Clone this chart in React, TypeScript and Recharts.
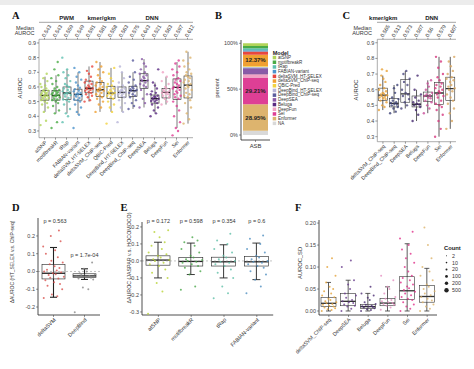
import React from 'react';
import { ComposedChart, BarChart, Bar, Scatter, XAxis, YAxis, ReferenceLine, LabelList } from 'recharts';

const FONT = '"Liberation Sans", Arial, Helvetica, sans-serif';
const SERIF = '"Liberation Serif", "Times New Roman", serif';

const colors: Record<string, string> = {
  atSNP: '#b2d45a',
  motifbreakR: '#4aab45',
  tRap: '#5fc0b0',
  'FABIAN-variant': '#4e94cc',
  'deltaSVM_HT-SELEX': '#e8473f',
  'deltaSVM_ChIP-seq': '#f0a032',
  'QBiC-Pred': '#f3d23f',
  'DeepBind_HT-SELEX': '#b8b5d8',
  'DeepBind_ChIP-seq': '#5b5d9e',
  DeepSEA: '#8a5aa8',
  Beluga: '#5a2a82',
  DeepFun: '#f0a3c4',
  Sei: '#de3f95',
  Enformer: '#ddb46e',
  NA: '#d9d9d9',
};

// jitter pattern for the dot clouds (fraction of half a band)
const JIT = [-0.9, 0.35, -0.15, 0.8, -0.55, 0.6, 0.05, -0.75, 0.45, -0.3, 0.95, -0.45, 0.2, -0.05, 0.7,
  -0.85, 0.3, -0.6, 0.55, 0.1, -0.35, 0.85, -0.2, 0.4, -0.7, 0.15, -0.95, 0.65, -0.25, 0.5];

// ---------- panel A ----------
const modelsA = ['atSNP', 'motifbreakR', 'tRap', 'FABIAN-variant', 'deltaSVM_HT-SELEX', 'deltaSVM_ChIP-seq',
  'QBiC-Pred', 'DeepBind_HT-SELEX', 'DeepBind_ChIP-seq', 'DeepSEA', 'Beluga', 'DeepFun', 'Sei', 'Enformer'];
const mediansA = ['0.543', '0.543', '0.559', '0.549', '0.591', '0.581', '0.558', '0.563', '0.575', '0.643',
  '0.521', '0.563', '0.597', '0.612'];
// lo whisker, q1, median, q3, hi whisker
const boxA = [
  [0.43, 0.51, 0.543, 0.575, 0.67],
  [0.42, 0.51, 0.543, 0.575, 0.68],
  [0.42, 0.515, 0.559, 0.6, 0.72],
  [0.41, 0.51, 0.549, 0.585, 0.7],
  [0.5, 0.56, 0.591, 0.64, 0.74],
  [0.43, 0.535, 0.581, 0.63, 0.77],
  [0.43, 0.52, 0.558, 0.605, 0.73],
  [0.43, 0.53, 0.563, 0.6, 0.7],
  [0.45, 0.535, 0.575, 0.605, 0.7],
  [0.46, 0.59, 0.643, 0.69, 0.79],
  [0.42, 0.49, 0.521, 0.545, 0.63],
  [0.48, 0.525, 0.563, 0.59, 0.67],
  [0.32, 0.515, 0.597, 0.655, 0.77],
  [0.35, 0.525, 0.612, 0.675, 0.84],
];
const dotsA = [
  [0.34, 0.37, 0.43, 0.46, 0.48, 0.49, 0.5, 0.51, 0.515, 0.52, 0.525, 0.53, 0.535, 0.54, 0.54, 0.545, 0.55, 0.555, 0.56, 0.565, 0.57, 0.575, 0.58, 0.59, 0.6, 0.61, 0.62, 0.64, 0.66, 0.69],
  [0.32, 0.36, 0.42, 0.44, 0.47, 0.49, 0.5, 0.51, 0.515, 0.52, 0.53, 0.535, 0.54, 0.54, 0.545, 0.55, 0.555, 0.56, 0.565, 0.57, 0.575, 0.58, 0.59, 0.6, 0.62, 0.64, 0.66, 0.68, 0.72, 0.77],
  [0.36, 0.4, 0.42, 0.45, 0.48, 0.5, 0.51, 0.515, 0.525, 0.535, 0.545, 0.55, 0.555, 0.56, 0.565, 0.57, 0.58, 0.59, 0.6, 0.61, 0.62, 0.64, 0.66, 0.68, 0.7, 0.72, 0.8],
  [0.32, 0.41, 0.43, 0.46, 0.48, 0.5, 0.51, 0.515, 0.525, 0.535, 0.54, 0.545, 0.55, 0.555, 0.56, 0.57, 0.575, 0.585, 0.595, 0.61, 0.63, 0.65, 0.67, 0.7, 0.73],
  [0.5, 0.51, 0.53, 0.54, 0.55, 0.56, 0.565, 0.575, 0.58, 0.585, 0.59, 0.595, 0.6, 0.61, 0.62, 0.63, 0.64, 0.65, 0.67, 0.69, 0.71, 0.74],
  [0.43, 0.46, 0.48, 0.5, 0.52, 0.53, 0.54, 0.55, 0.56, 0.57, 0.575, 0.58, 0.585, 0.59, 0.6, 0.61, 0.62, 0.63, 0.64, 0.66, 0.68, 0.7, 0.72, 0.74, 0.77],
  [0.35, 0.43, 0.46, 0.48, 0.5, 0.52, 0.53, 0.54, 0.55, 0.555, 0.56, 0.565, 0.57, 0.58, 0.59, 0.6, 0.61, 0.62, 0.64, 0.66, 0.69, 0.73],
  [0.36, 0.43, 0.46, 0.49, 0.51, 0.53, 0.54, 0.55, 0.555, 0.56, 0.565, 0.57, 0.575, 0.58, 0.59, 0.6, 0.61, 0.63, 0.66, 0.7, 0.74],
  [0.45, 0.47, 0.49, 0.51, 0.53, 0.54, 0.55, 0.56, 0.57, 0.575, 0.58, 0.585, 0.59, 0.6, 0.61, 0.63, 0.65, 0.67, 0.7, 0.78],
  [0.46, 0.49, 0.52, 0.55, 0.58, 0.6, 0.61, 0.62, 0.63, 0.64, 0.645, 0.65, 0.66, 0.67, 0.68, 0.69, 0.7, 0.72, 0.74, 0.76, 0.79],
  [0.4, 0.42, 0.44, 0.46, 0.48, 0.49, 0.5, 0.505, 0.51, 0.515, 0.52, 0.525, 0.53, 0.535, 0.54, 0.55, 0.56, 0.57, 0.59, 0.61, 0.63, 0.72],
  [0.48, 0.5, 0.52, 0.53, 0.54, 0.55, 0.555, 0.56, 0.565, 0.57, 0.575, 0.58, 0.59, 0.6, 0.62, 0.64, 0.67, 0.7],
  [0.27, 0.3, 0.32, 0.36, 0.4, 0.44, 0.47, 0.5, 0.52, 0.53, 0.54, 0.55, 0.56, 0.57, 0.58, 0.59, 0.595, 0.6, 0.61, 0.62, 0.63, 0.64, 0.65, 0.66, 0.68, 0.7, 0.72, 0.74, 0.76, 0.78],
  [0.35, 0.38, 0.42, 0.46, 0.49, 0.51, 0.53, 0.54, 0.55, 0.56, 0.58, 0.59, 0.6, 0.61, 0.62, 0.63, 0.64, 0.65, 0.66, 0.67, 0.68, 0.69, 0.7, 0.72, 0.74, 0.76, 0.78, 0.8, 0.84],
];

// ---------- panel B ----------
const legendModels = ['atSNP', 'motifbreakR', 'tRap', 'FABIAN-variant', 'deltaSVM_HT-SELEX', 'deltaSVM_ChIP-seq',
  'QBiC-Pred', 'DeepBind_HT-SELEX', 'DeepBind_ChIP-seq', 'DeepSEA', 'Beluga', 'DeepFun', 'Sei', 'Enformer', 'NA'];
const sharesB = [2.87, 2.4, 2.2, 1.5, 3.4, 12.37, 0.8, 1.2, 0.8, 5.0, 1.2, 3.5, 29.21, 28.95, 4.6];
const labelledB = ['deltaSVM_ChIP-seq', 'Sei', 'Enformer'];

// ---------- panel C ----------
const modelsC = ['deltaSVM_ChIP-seq', 'DeepBind_ChIP-seq', 'DeepSEA', 'Beluga', 'DeepFun', 'Sei', 'Enformer'];
const mediansC = ['0.565', '0.513', '0.573', '0.507', '0.56', '0.579', '0.607'];
const boxC = [
  [0.47, 0.532, 0.565, 0.61, 0.69],
  [0.45, 0.49, 0.513, 0.545, 0.63],
  [0.48, 0.52, 0.573, 0.665, 0.72],
  [0.4, 0.49, 0.507, 0.56, 0.6],
  [0.45, 0.525, 0.56, 0.585, 0.66],
  [0.3, 0.505, 0.579, 0.645, 0.81],
  [0.35, 0.53, 0.607, 0.68, 0.81],
];
const dotsC = [
  [0.47, 0.49, 0.5, 0.52, 0.53, 0.54, 0.545, 0.55, 0.555, 0.56, 0.565, 0.57, 0.575, 0.58, 0.59, 0.6, 0.61, 0.63, 0.65, 0.67, 0.69, 0.72, 0.73],
  [0.45, 0.46, 0.48, 0.49, 0.5, 0.505, 0.51, 0.515, 0.52, 0.53, 0.54, 0.55, 0.58, 0.61, 0.63],
  [0.48, 0.5, 0.52, 0.54, 0.56, 0.57, 0.58, 0.6, 0.63, 0.65, 0.67, 0.7, 0.72],
  [0.4, 0.44, 0.47, 0.49, 0.5, 0.505, 0.51, 0.52, 0.53, 0.55, 0.57, 0.6, 0.69],
  [0.45, 0.48, 0.5, 0.52, 0.53, 0.545, 0.55, 0.56, 0.565, 0.57, 0.58, 0.6, 0.62, 0.64, 0.66],
  [0.3, 0.35, 0.4, 0.44, 0.47, 0.49, 0.5, 0.51, 0.53, 0.55, 0.56, 0.57, 0.58, 0.59, 0.6, 0.61, 0.62, 0.63, 0.64, 0.66, 0.68, 0.7, 0.74, 0.78, 0.81],
  [0.35, 0.4, 0.45, 0.48, 0.51, 0.53, 0.55, 0.57, 0.59, 0.6, 0.61, 0.62, 0.63, 0.65, 0.66, 0.67, 0.68, 0.7, 0.72, 0.75, 0.78, 0.81],
];
const colorsC = ['#e9a23a', '#3f4378', '#4e4a80', '#45296f', '#c9509a', '#d6387f', '#d9a862'];

// ---------- panel D ----------
const modelsD = ['deltaSVM', 'DeepBind'];
const boxD = [
  [-0.145, -0.042, -0.01, 0.04, 0.135],
  [-0.045, -0.035, -0.025, -0.013, 0.015],
];
const dotsD = [
  [-0.15, -0.14, -0.13, -0.1, -0.08, -0.07, -0.06, -0.05, -0.04, -0.035, -0.03, -0.02, -0.015, -0.01, -0.005, 0, 0.005, 0.01, 0.02, 0.03, 0.04, 0.05, 0.06, 0.08, 0.1, 0.12, 0.14, 0.17, 0.2, 0.23],
  [-0.23, -0.1, -0.09, -0.045, -0.04, -0.035, -0.03, -0.028, -0.025, -0.02, -0.015, -0.01, 0.0, 0.015, 0.05],
];
const colorsD = ['#d9534f', '#888888'];
const pD = ['p = 0.563', 'p = 1.7e-04'];

// ---------- panel E ----------
const modelsE = ['atSNP', 'motifbreakR', 'tRap', 'FABIAN-variant'];
const boxE = [
  [-0.1, -0.025, 0.005, 0.03, 0.11],
  [-0.08, -0.03, -0.003, 0.02, 0.105],
  [-0.1, -0.03, -0.005, 0.022, 0.095],
  [-0.11, -0.03, -0.005, 0.025, 0.105],
];
const dotsE = [
  [-0.31, -0.18, -0.13, -0.1, -0.07, -0.05, -0.03, -0.02, -0.01, 0, 0.005, 0.01, 0.02, 0.03, 0.04, 0.05, 0.07, 0.09, 0.11, 0.14, 0.17, 0.18],
  [-0.17, -0.15, -0.08, -0.06, -0.04, -0.03, -0.02, -0.01, -0.005, 0, 0.005, 0.01, 0.02, 0.03, 0.05, 0.07, 0.09, 0.11, 0.12, 0.14],
  [-0.22, -0.19, -0.15, -0.1, -0.07, -0.05, -0.03, -0.02, -0.01, -0.005, 0, 0.01, 0.02, 0.03, 0.05, 0.07, 0.1, 0.12, 0.16],
  [-0.19, -0.15, -0.11, -0.08, -0.06, -0.04, -0.03, -0.02, -0.01, -0.005, 0, 0.01, 0.02, 0.03, 0.05, 0.07, 0.1, 0.13, 0.15],
];
const colorsE = ['#b8d334', '#4aa84a', '#5fbfa8', '#4f8fc0'];
const pE = ['p = 0.172', 'p = 0.598', 'p = 0.354', 'p = 0.6'];

// ---------- panel F ----------
const modelsF = ['deltaSVM_ChIP-seq', 'DeepSEA', 'Beluga', 'DeepFun', 'Sei', 'Enformer'];
const boxF = [
  [0, 0.01, 0.0175, 0.031, 0.065],
  [0, 0.012, 0.022, 0.04, 0.07],
  [0, 0.006, 0.01, 0.015, 0.04],
  [0, 0.012, 0.018, 0.028, 0.055],
  [0, 0.026, 0.046, 0.078, 0.153],
  [0, 0.02, 0.033, 0.058, 0.097],
];
const dotsF = [
  [0, 0.002, 0.004, 0.006, 0.008, 0.01, 0.012, 0.014, 0.016, 0.018, 0.02, 0.022, 0.025, 0.028, 0.031, 0.035, 0.04, 0.045, 0.05, 0.055, 0.065, 0.08, 0.1, 0.12],
  [0, 0.005, 0.01, 0.012, 0.015, 0.018, 0.02, 0.022, 0.025, 0.03, 0.035, 0.04, 0.05, 0.06, 0.07, 0.1, 0.115],
  [0, 0.002, 0.004, 0.006, 0.008, 0.009, 0.01, 0.011, 0.012, 0.014, 0.016, 0.02, 0.025, 0.03, 0.035, 0.04, 0.055],
  [0.003, 0.008, 0.012, 0.014, 0.016, 0.018, 0.02, 0.022, 0.025, 0.028, 0.032, 0.04, 0.05, 0.055, 0.07, 0.08],
  [0, 0.005, 0.01, 0.015, 0.02, 0.025, 0.028, 0.032, 0.036, 0.04, 0.044, 0.048, 0.052, 0.056, 0.06, 0.065, 0.07, 0.075, 0.08, 0.09, 0.1, 0.11, 0.12, 0.13, 0.14, 0.15, 0.165, 0.18],
  [0, 0.005, 0.01, 0.015, 0.02, 0.024, 0.028, 0.032, 0.036, 0.04, 0.045, 0.05, 0.055, 0.06, 0.07, 0.08, 0.09, 0.1, 0.12, 0.15, 0.19],
];
const colorsF = ['#e3a33a', '#6a3d8f', '#4a2a72', '#e58cbf', '#e0308a', '#dcb36a'];
const countLabels = ['2', '10', '20', '100', '200', '500'];
const countSizes = [0.5, 0.8, 1.0, 1.4, 1.7, 2.2];

type BoxStyle = { stroke: string; fill: string; cap: number; sw: number; wsw: number };

const makeBox = (st: BoxStyle) => (p: any) => {
  const { x, y, width, height, payload } = p;
  if (payload == null || height == null || isNaN(height)) return <g />;
  const { lo, q1, med, q3, hi } = payload;
  const py = (v: number) => y + (height * (hi - v)) / (hi - lo);
  const cx = x + width / 2;
  return (
    <g>
      <line x1={cx} x2={cx} y1={py(hi)} y2={py(lo)} stroke={st.stroke} strokeWidth={st.wsw} />
      {st.cap > 0 && (
        <>
          <line x1={cx - st.cap / 2} x2={cx + st.cap / 2} y1={py(hi)} y2={py(hi)} stroke={st.stroke} strokeWidth={st.wsw} />
          <line x1={cx - st.cap / 2} x2={cx + st.cap / 2} y1={py(lo)} y2={py(lo)} stroke={st.stroke} strokeWidth={st.wsw} />
        </>
      )}
      <rect x={x} y={py(q3)} width={width} height={py(q1) - py(q3)} fill={st.fill} stroke={st.stroke} strokeWidth={st.sw} />
      <line x1={x} x2={x + width} y1={py(med)} y2={py(med)} stroke={st.stroke} strokeWidth={st.sw * 2.2} />
    </g>
  );
};

const CatTick = ({ x, y, payload, fs }: any) => (
  <text x={x + 1.5} y={y} dy="0.3em" textAnchor="end" fontSize={fs} style={{ fill: '#333' }} fontFamily={FONT}
    transform={`rotate(-45 ${x + 1.5} ${y})`}>
    {payload.value}
  </text>
);

const MedTick = ({ x, y, index, labels }: any) => (
  <text x={x - 1} y={y} dy="0.3em" textAnchor="start" fontSize={5.3} style={{ fill: '#333' }} fontFamily={FONT}
    transform={`rotate(-60 ${x - 1} ${y})`}>
    {labels[index]}
  </text>
);

const ValTick = ({ x, y, payload, digits, suffix }: any) => (
  <text x={x} y={y} dy="0.35em" textAnchor="end" fontSize={5.5} style={{ fill: '#444' }} fontFamily={FONT}>
    {`${Number(payload.value).toFixed(digits)}${suffix || ''}`}
  </text>
);

type PanelProps = {
  left: number; top: number; width: number; height: number;
  margin: { top: number; right: number; bottom: number; left: number };
  yW: number; topH?: number; bottomH: number;
  names: string[]; stats: number[][]; dots: number[][]; cols: string[];
  domain: [number, number]; ticks: number[]; digits: number;
  barSize: number; spread: number; box: BoxStyle; r: number;
  axisColor: string; framed?: boolean; topLabels?: string[]; zeroLine?: boolean; catFs: number;
};

const BoxPanel = (p: PanelProps) => {
  const rows = p.names.map((name, i) => ({
    name, lo: p.stats[i][0], q1: p.stats[i][1], med: p.stats[i][2], q3: p.stats[i][3], hi: p.stats[i][4],
  }));
  const pts = p.dots.flatMap((vals, i) =>
    vals.map((v, k) => ({ x: i + JIT[k % JIT.length] * p.spread, v, c: p.cols[i] })),
  );
  const n = p.names.length;
  const axisLine = { stroke: p.axisColor, strokeWidth: p.framed ? 0.7 : 0.8 };
  const tickLine = { stroke: '#333', strokeWidth: 0.5 };
  return (
    <div style={{ position: 'absolute', left: p.left, top: p.top }}>
      <ComposedChart width={p.width} height={p.height} data={rows} margin={p.margin}>
        <XAxis xAxisId="cat" dataKey="name" type="category" height={p.bottomH} interval={0}
          tick={<CatTick fs={p.catFs} />} tickSize={2} tickLine={tickLine} axisLine={axisLine} />
        {p.topLabels && (
          <XAxis xAxisId="top" dataKey="name" type="category" orientation="top" height={p.topH} interval={0}
            tick={<MedTick labels={p.topLabels} />} tickSize={1.5} tickMargin={1} tickLine={tickLine} axisLine={axisLine} />
        )}
        <XAxis xAxisId="px" type="number" dataKey="x" domain={[-0.5, n - 0.5]} allowDataOverflow hide />
        <YAxis yAxisId="v" domain={p.domain} ticks={p.ticks} allowDataOverflow width={p.yW} interval={0}
          tick={<ValTick digits={p.digits} />} tickSize={2} tickMargin={1} tickLine={tickLine} axisLine={axisLine} />
        {p.framed && (
          <YAxis yAxisId="r" orientation="right" width={0} tick={false} tickLine={false} domain={[0, 1]} axisLine={axisLine} />
        )}
        {p.zeroLine && (
          <ReferenceLine xAxisId="cat" yAxisId="v" y={0} stroke="#9a9a9a" strokeWidth={0.6} strokeDasharray="2 2" />
        )}
        <Scatter xAxisId="px" yAxisId="v" dataKey="v" data={pts} isAnimationActive={false}
          shape={(s: any) => <circle cx={s.cx} cy={s.cy} r={p.r} fill={s.payload.c} fillOpacity={0.8} />} />
        <Bar xAxisId="cat" yAxisId="v" dataKey={(d: any) => [d.lo, d.hi]} barSize={p.barSize}
          isAnimationActive={false} shape={makeBox(p.box)} />
      </ComposedChart>
    </div>
  );
};

const SharePanel = () => {
  const row: Record<string, any> = { name: 'ASB' };
  legendModels.forEach((m, i) => { row[m] = sharesB[i]; });
  const stackOrder = [...legendModels].reverse();
  return (
    <div style={{ position: 'absolute', left: 190, top: 0 }}>
      <BarChart width={90} height={160} data={[row]} margin={{ top: 40, right: 10, left: 0, bottom: 0 }} barSize={25}>
        <XAxis dataKey="name" height={20} tick={{ fontSize: 5.8, fill: '#333', fontFamily: FONT }} tickSize={2}
          tickLine={{ stroke: '#333', strokeWidth: 0.5 }} axisLine={{ stroke: '#222', strokeWidth: 0.8 }} />
        <YAxis width={51} domain={[-5.45, 103.6]} ticks={[0, 25, 50, 75, 100]} allowDataOverflow
          tick={<ValTick digits={0} suffix="%" />} tickSize={2} tickMargin={1}
          tickLine={{ stroke: '#333', strokeWidth: 0.5 }} axisLine={{ stroke: '#222', strokeWidth: 0.8 }} />
        {stackOrder.map((m) => (
          <Bar key={m} dataKey={m} stackId="s" fill={colors[m]} isAnimationActive={false}>
            {labelledB.includes(m) && (
              <LabelList dataKey={m} position="center" formatter={(v: any) => `${v}%`}
                style={{ fontSize: 6, fontWeight: 'bold', fill: '#222', fontFamily: FONT }} />
            )}
          </Bar>
        ))}
      </BarChart>
    </div>
  );
};

const letters = [
  { t: 'A', x: 12, y: 19 }, { t: 'B', x: 215, y: 19 }, { t: 'C', x: 342.5, y: 19 },
  { t: 'D', x: 12, y: 210.7 }, { t: 'E', x: 120.5, y: 210.7 }, { t: 'F', x: 295, y: 210.7 },
];

const Overlay = () => (
  <svg width={474} height={369} style={{ position: 'absolute', left: 0, top: 0, pointerEvents: 'none' }} fontFamily={FONT}>
    <rect x={0} y={0} width={474} height={5} fill="#ececec" />
    {letters.map((l) => (
      <text key={l.t} x={l.x} y={l.y} fontFamily={SERIF} fontWeight="bold" fontSize={10.5} fill="#111">{l.t}</text>
    ))}
    <g fontSize={6} fontWeight="bold" fill="#222" textAnchor="middle">
      <text x={66.7} y={20}>PWM</text>
      <text x={101.7} y={20}>kmer/gkm</text>
      <text x={152} y={20}>DNN</text>
      <text x={383.3} y={20}>kmer/gkm</text>
      <text x={431.7} y={20}>DNN</text>
    </g>
    <line x1={39} x2={193} y1={22.3} y2={22.3} stroke="#666" strokeWidth={0.6} />
    <line x1={377} x2={456} y1={22.3} y2={22.3} stroke="#666" strokeWidth={0.6} />
    <g fontSize={5.5} fill="#333" textAnchor="end">
      <text x={34} y={30}>Median</text>
      <text x={34.5} y={34.8}>AUROC</text>
      <text x={371.5} y={30}>Median</text>
      <text x={372} y={34.8}>AUROC</text>
    </g>
    <g fontSize={5.8} fill="#333" textAnchor="middle">
      <text x={22} y={88} transform="rotate(-90 22 88)">AUROC</text>
      <text x={358} y={90} transform="rotate(-90 358 90)">AUROC</text>
      <text x={219} y={88} transform="rotate(-90 219 88)">percent</text>
      <text x={14} y={262} fontSize={5} transform="rotate(-90 14 262)">ΔAUROC (HT_SELEX v.s. ChIP-seq)</text>
      <text x={131} y={258} fontSize={5.3} transform="rotate(-90 131 258)">ΔAUROC (JASPAR v.s. HOCOMOCO)</text>
      <text x={302} y={263} transform="rotate(-90 302 263)">AUROC_SD</text>
    </g>
    <g fontSize={5.5} fill="#333" textAnchor="middle">
      <text x={55} y={223.3}>{pD[0]}</text>
      <text x={84.5} y={257.3}>{pD[1]}</text>
      {pE.map((t, i) => (
        <text key={t} x={158.4 + i * 32.8} y={223.3}>{t}</text>
      ))}
    </g>
    <text x={272.7} y={55} fontSize={5.5} fontWeight="bold" fill="#222">Model</text>
    {legendModels.map((m, i) => (
      <g key={m}>
        <rect x={272.7} y={55.8 + i * 4.7} width={3.5} height={3.5} fill={colors[m]} />
        <text x={278} y={58.8 + i * 4.7} fontSize={4.5} fill="#333">{m}</text>
      </g>
    ))}
    <text x={444} y={250} fontSize={5.8} fontWeight="bold" fill="#222">Count</text>
    {countLabels.map((c, i) => (
      <g key={c}>
        <circle cx={446.5} cy={255.7 + i * 6.9} r={countSizes[i]} fill="#222" />
        <text x={452} y={257.6 + i * 6.9} fontSize={5.3} fill="#333">{c}</text>
      </g>
    ))}
  </svg>
);

export default function App() {
  return (
    <div style={{ position: 'absolute', left: 0, top: 0, width: 474, height: 369, background: '#fff', overflow: 'hidden' }}>
      <BoxPanel left={0} top={0} width={200} height={190} margin={{ top: 14.3, right: 7, bottom: 0, left: 0 }}
        yW={39} topH={25} bottomH={52.3} names={modelsA} stats={boxA} dots={dotsA}
        cols={modelsA.map((m) => colors[m])} domain={[0.254, 0.925]} ticks={[0.3, 0.4, 0.5, 0.6, 0.7, 0.8, 0.9]}
        digits={1} barSize={8} spread={0.4} r={1.2}
        box={{ stroke: '#222', fill: 'rgba(255,255,255,0.3)', cap: 0, sw: 0.6, wsw: 0.6 }}
        axisColor="#8a8a8a" framed topLabels={mediansA} catFs={5.2} />
      <SharePanel />
      <BoxPanel left={330} top={0} width={130} height={191.7} margin={{ top: 14.3, right: 4, bottom: 0, left: 0 }}
        yW={47.3} topH={25} bottomH={50} names={modelsC} stats={boxC} dots={dotsC} cols={colorsC}
        domain={[0.268, 0.922]} ticks={[0.3, 0.4, 0.5, 0.6, 0.7, 0.8, 0.9]} digits={1} barSize={9} spread={0.4} r={1.2}
        box={{ stroke: '#333', fill: 'rgba(255,255,255,0.3)', cap: 0, sw: 0.6, wsw: 0.8 }}
        axisColor="#8a8a8a" framed topLabels={mediansC} catFs={5.2} />
      <BoxPanel left={0} top={200} width={105} height={165} margin={{ top: 18, right: 5, bottom: 0, left: 0 }}
        yW={38} bottomH={50} names={modelsD} stats={boxD} dots={dotsD} cols={colorsD}
        domain={[-0.245, 0.301]} ticks={[-0.2, -0.1, 0, 0.1, 0.2]} digits={1} barSize={23} spread={0.35} r={1}
        box={{ stroke: '#222', fill: 'rgba(255,255,255,0.3)', cap: 7, sw: 0.6, wsw: 1.1 }}
        axisColor="#222" zeroLine catFs={5.5} />
      <BoxPanel left={110} top={200} width={168} height={165} margin={{ top: 22, right: 4.8, bottom: 0, left: 0 }}
        yW={32} bottomH={50} names={modelsE} stats={boxE} dots={dotsE} cols={colorsE}
        domain={[-0.318, 0.229]} ticks={[-0.3, -0.2, -0.1, 0, 0.1, 0.2]} digits={1} barSize={24} spread={0.35} r={1}
        box={{ stroke: '#222', fill: 'rgba(255,255,255,0.3)', cap: 8, sw: 0.6, wsw: 0.9 }}
        axisColor="#222" zeroLine catFs={5.5} />
      <BoxPanel left={280} top={200} width={167} height={165} margin={{ top: 20, right: 10, bottom: 0, left: 0 }}
        yW={39} bottomH={50} names={modelsF} stats={boxF} dots={dotsF} cols={colorsF}
        domain={[-0.0091, 0.207]} ticks={[0, 0.05, 0.1, 0.15, 0.2]} digits={2} barSize={15} spread={0.4} r={1}
        box={{ stroke: '#333', fill: 'rgba(255,255,255,0.3)', cap: 5, sw: 0.6, wsw: 0.8 }}
        axisColor="#222" catFs={5.3} />
      <Overlay />
    </div>
  );
}
